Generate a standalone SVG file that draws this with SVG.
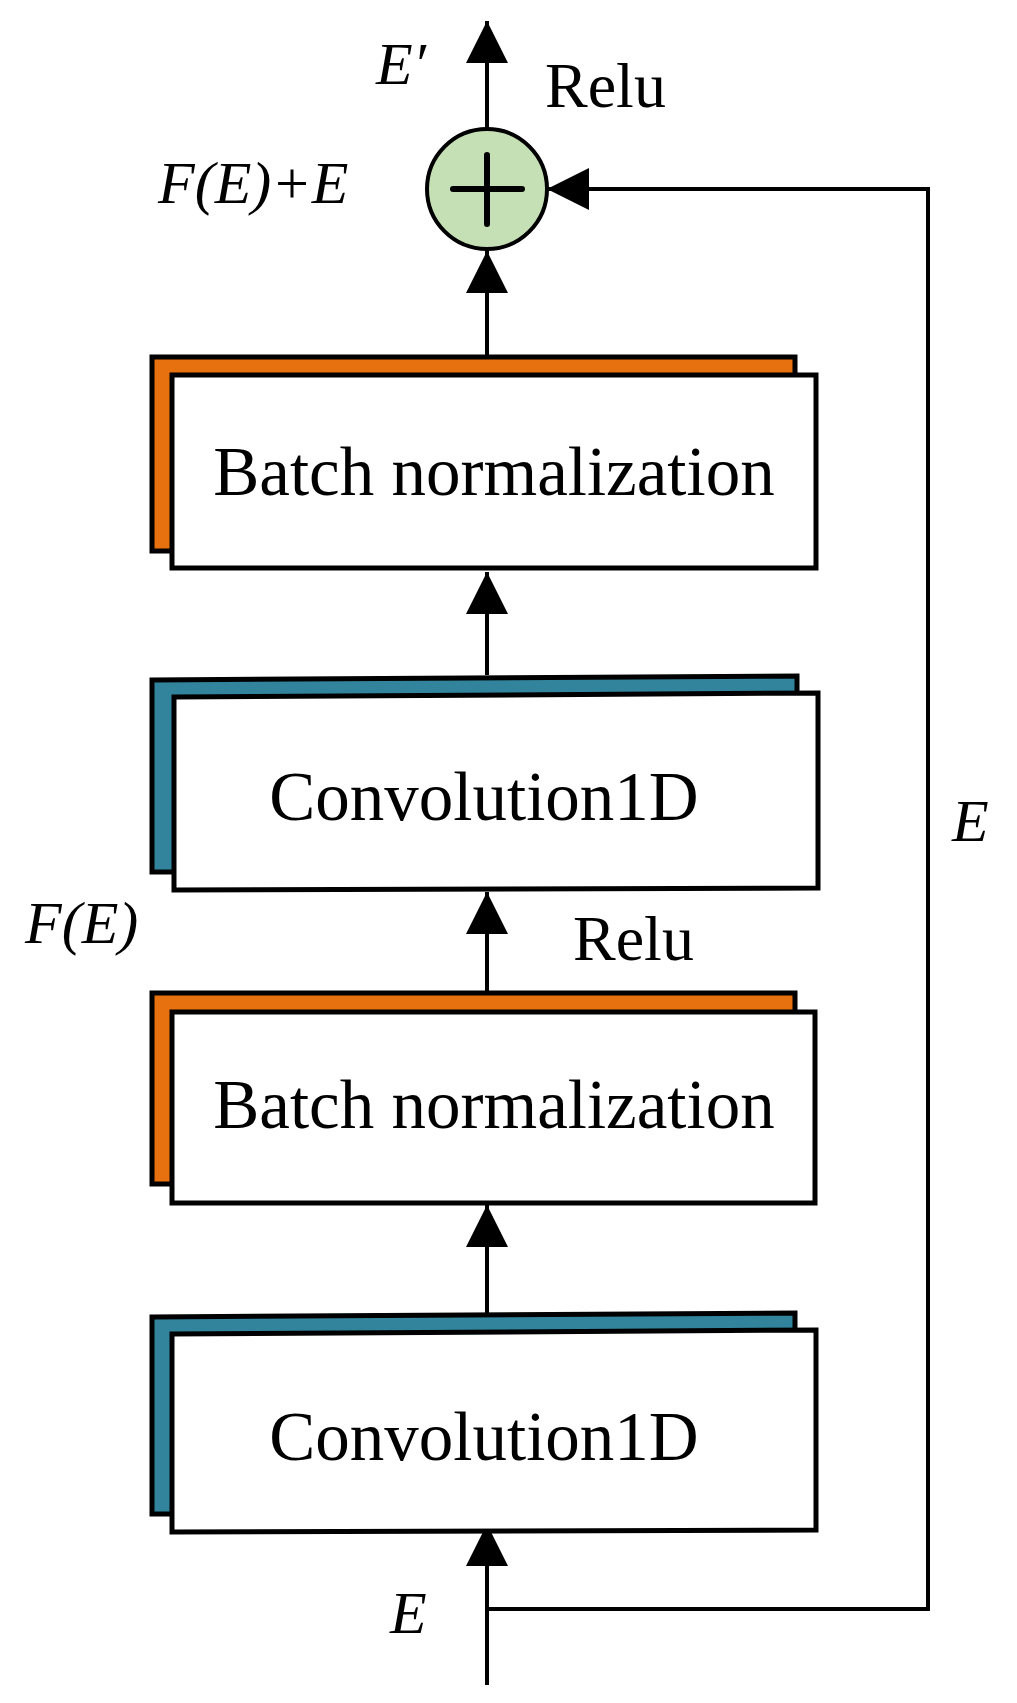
<svg xmlns="http://www.w3.org/2000/svg" width="1017" height="1703" viewBox="0 0 1017 1703">
<style>
.t{font-family:"Liberation Serif","Times New Roman",serif;fill:#000}
.i{font-style:italic}
.ln{stroke:#000;stroke-width:4;fill:none}
.bk{stroke:#000;stroke-width:5}
.fr{fill:#fff;stroke:#000;stroke-width:5}
</style>
<defs>
<marker id="a" viewBox="0 0 42 42" refX="42" refY="21" markerWidth="42" markerHeight="42" markerUnits="userSpaceOnUse" orient="auto"><path d="M0,0 L42,21 L0,42 Z" fill="#000"/></marker>
</defs>
<rect width="1017" height="1703" fill="#fff"/>
<g id="connectors">
<path class="ln" d="M487,1685 V1524" marker-end="url(#a)"/>
<path class="ln" d="M487,1316 V1205" marker-end="url(#a)"/>
<path class="ln" d="M487,991 V892" marker-end="url(#a)"/>
<path class="ln" d="M487,675 V572" marker-end="url(#a)"/>
<path class="ln" d="M487,357 V251" marker-end="url(#a)"/>
<path class="ln" d="M487,129 V21" marker-end="url(#a)"/>
<path class="ln" d="M487,1609 H928 V189 H547" marker-end="url(#a)"/>
</g>
<g id="sum">
<circle cx="487" cy="189" r="60" fill="#c5e0b4" stroke="#000" stroke-width="4"/>
<path d="M453,189 H522 M487,155 V224" stroke="#000" stroke-width="6" stroke-linecap="round"/>
</g>
<g id="bn1">
<rect class="bk" x="152" y="357" width="643" height="194" fill="#e8710f"/>
<rect class="fr" x="172" y="375" width="644" height="193"/>
<text class="t" x="494" y="495" font-size="69" text-anchor="middle">Batch normalization</text>
</g>
<g id="conv1">
<path class="bk" d="M152,680 L797,676 L797,872 L152,872 Z" fill="#31849b"/>
<path class="fr" d="M174,697 L818,693 L818,888 L174,890 Z"/>
<text class="t" x="484" y="820" font-size="69" text-anchor="middle">Convolution1D</text>
</g>
<g id="bn2">
<rect class="bk" x="152" y="993" width="643" height="191" fill="#e8710f"/>
<rect class="fr" x="172" y="1012" width="643" height="191"/>
<text class="t" x="494" y="1128" font-size="69" text-anchor="middle">Batch normalization</text>
</g>
<g id="conv2">
<path class="bk" d="M152,1317 L795,1313 L795,1514 L152,1514 Z" fill="#31849b"/>
<path class="fr" d="M172,1334 L816,1330 L816,1530 L172,1532 Z"/>
<text class="t" x="484" y="1460" font-size="69" text-anchor="middle">Convolution1D</text>
</g>
<g id="labels">
<text class="t i" x="376" y="84" font-size="60">E′</text>
<text class="t" x="545" y="107" font-size="64">Relu</text>
<text class="t i" x="158" y="203" font-size="60">F(E)+E</text>
<text class="t" x="573" y="960" font-size="64">Relu</text>
<text class="t i" x="25" y="943" font-size="60">F(E)</text>
<text class="t i" x="952" y="841" font-size="60">E</text>
<text class="t i" x="390" y="1633" font-size="60">E</text>
</g>
</svg>
